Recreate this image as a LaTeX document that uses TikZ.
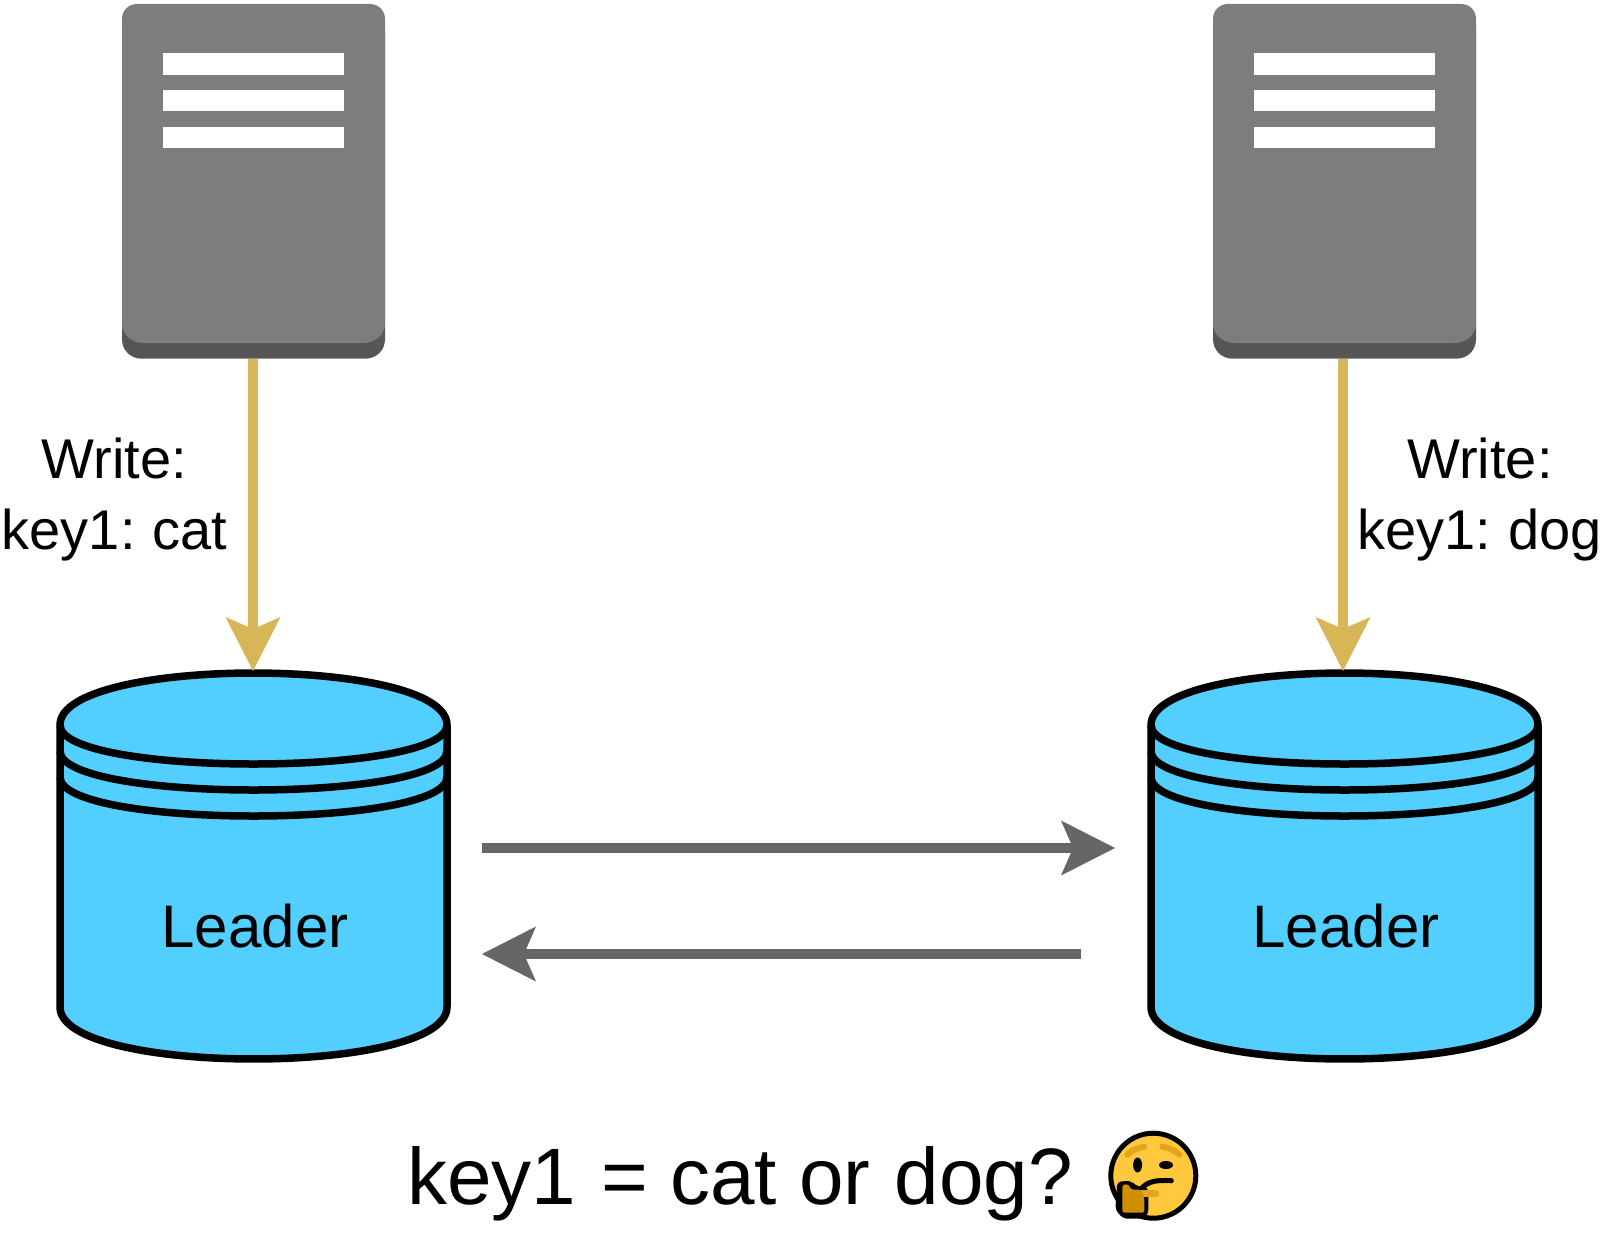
\documentclass[tikz,border=0pt]{standalone}
\usepackage{fontspec}
\setmainfont{Liberation Sans}
\usetikzlibrary{arrows.meta}
\definecolor{srv}{HTML}{7D7D7D}
\definecolor{srvdark}{HTML}{565656}
\definecolor{gold}{HTML}{D6B656}
\definecolor{dbblue}{HTML}{52CFFF}
\definecolor{flow}{HTML}{666666}
\definecolor{emojiface}{HTML}{FFC83D}
\definecolor{emojibrow}{HTML}{E5A41C}
\definecolor{emojihand}{HTML}{D08F00}
\tikzset{
  anchorbox/.style={inner sep=0pt,outer sep=0pt,draw=none,fill=none},
  dbline/.style={draw=black,line width=7.5pt,line join=round},
  writeflow/.style={draw=gold,line width=10pt,-{Stealth[length=54pt,width=55pt,inset=12pt,line width=0pt,fill=gold]}},
  syncflow/.style={draw=flow,line width=10pt,-{Stealth[length=54pt,width=55pt,inset=12pt,line width=0pt,fill=flow]}},
  label60/.style={anchor=base,inner sep=0pt,font=\fontsize{60}{60}\selectfont},
  label56/.style={anchor=base,inner sep=0pt,font=\fontsize{56}{56}\selectfont},
}
\newcommand{\serverat}[2]{%
  \begin{scope}[xshift=#2]
    \fill[srvdark] (122,30) -- (122,339) .. controls (122,350) and (130,358.7) .. (142,358.7) -- (365,358.7) .. controls (377,358.7) and (385,350) .. (385,339) -- (385,30) -- cycle;
    \fill[srv] (122,19) .. controls (122,10) and (129,4) .. (137,4) -- (370,4) .. controls (378,4) and (385,10) .. (385,19) -- (385,323) .. controls (385,335) and (375,343) .. (363,343) -- (144,343) .. controls (132,343) and (122,335) .. (122,323) -- cycle;
    \fill[white] (162.5,53) rectangle (344,74.5);
    \fill[white] (162.5,90) rectangle (344,111);
    \fill[white] (162.5,126.5) rectangle (344,148);
    \node[anchorbox,minimum width=263pt,minimum height=354.7pt] (#1) at (253.5,181.35) {};
  \end{scope}}
\newcommand{\datastoreat}[2]{%
  \begin{scope}[xshift=#2]
    \path[dbline,fill=dbblue] (60,725) .. controls (60,655.7) and (447,655.7) .. (447,725)
      -- (447,1007) .. controls (447,1076.3) and (60,1076.3) .. (60,1007) -- cycle;
    \path[dbline] (60,725) .. controls (60,777) and (447,777) .. (447,725);
    \path[dbline] (60,751) .. controls (60,803) and (447,803) .. (447,751);
    \path[dbline] (60,777) .. controls (60,829) and (447,829) .. (447,777);
    \node[anchorbox,minimum width=387pt,minimum height=386pt] (#1) at (253.5,866) {};
    \node[label60] (#1text) at (255,947) {Leader};
  \end{scope}}
\begin{document}
\begin{tikzpicture}[x=1pt,y=-1pt]
\useasboundingbox (0,0) rectangle (1600,1247);
\serverat{serverA}{0}
\serverat{serverB}{1091}
\datastoreat{leaderA}{0}
\datastoreat{leaderB}{1091}
\draw[writeflow] ([xshift=-0.5pt]serverA.south) -- ([xshift=-0.5pt,yshift=2pt]leaderA.north);
\draw[writeflow] ([xshift=-1.5pt]serverB.south) -- ([xshift=-1.5pt,yshift=2pt]leaderB.north);
\coordinate (syncAstart) at ([xshift=35pt]leaderA.east |- 0,848);
\coordinate (syncAend) at ([xshift=-36pt]leaderB.west |- 0,848);
\coordinate (syncBstart) at ([xshift=-70pt]leaderB.west |- 0,954);
\coordinate (syncBend) at ([xshift=35pt]leaderA.east |- 0,954);
\draw[syncflow] (syncAstart) -- (syncAend);
\draw[syncflow] (syncBstart) -- (syncBend);
\node[label56] (writeA) at (114.5,478) {Write:};
\node[label56] (keyA) at (114.5,549) {key1:\hspace{-4pt} cat};
\node[label56] (writeB) at (1480,478) {Write:};
\node[label56] (keyB) at (1479.5,549) {key1:\hspace{-4pt} dog};
\node[anchor=base west,inner sep=0pt,font=\fontsize{80}{80}\selectfont] (question) at (407,1204) {key1\hspace{3pt} = cat or\hspace{2pt} dog?};
% thinking-face emoji
\begin{scope}[shift={(1153.3,1175.7)}]
  \fill[emojiface,draw=black,line width=5pt] (0,0) circle[radius=42.5];
  \draw[emojibrow,line width=6pt,line cap=round] (-26,-21) .. controls (-22,-25) and (-16,-28) .. (-9,-29);
  \draw[emojibrow,line width=6pt,line cap=round] (9,-29) .. controls (16,-28) and (22,-25) .. (26,-21);
  \fill[black] (-15.7,-10.7) ellipse[x radius=4.5,y radius=7.5];
  \fill[black] (12.7,-10.7) ellipse[x radius=7,y radius=4];
  \draw[black,line width=5pt,line cap=round] (-12,13) .. controls (-6,6) and (2,4) .. (18,5);
  \fill[black,rounded corners=4pt] (-36,6) -- (-22,5) -- (-18,10) -- (-5,12) -- (-5,38) -- (-10,43) -- (-30,43) -- (-38,34) -- cycle;
  \draw[emojibrow,line width=7pt,line cap=round] (-12,18) -- (2.5,18);
  \fill[emojihand,rounded corners=2.5pt] (-31,9) -- (-25,8.5) -- (-22,14) -- (-12,14) -- (-9,22) -- (-9,37) -- (-31,37) -- cycle;
\end{scope}
\end{tikzpicture}
\end{document}
